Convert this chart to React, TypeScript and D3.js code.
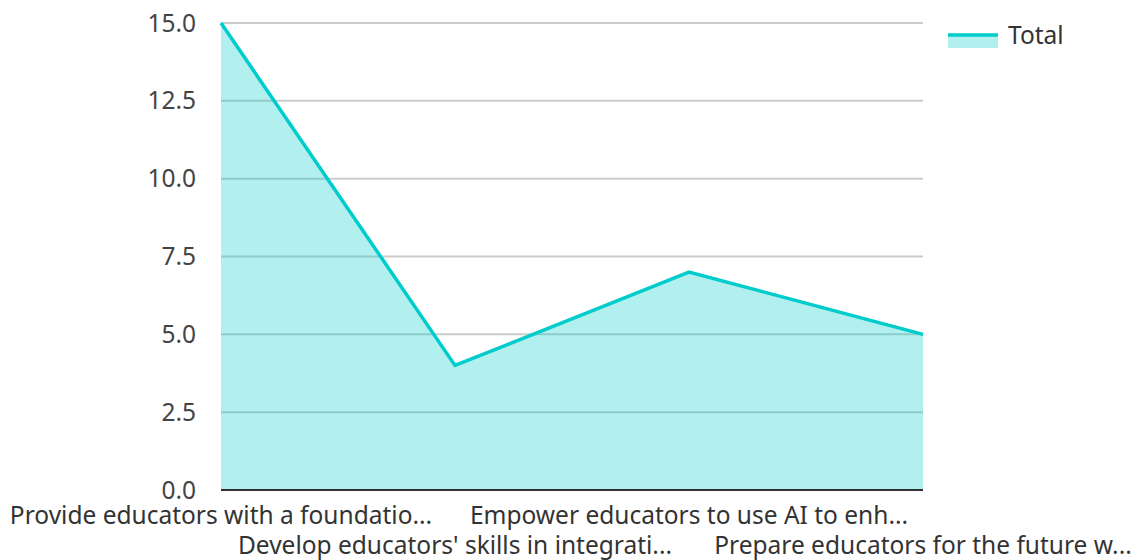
import React, { useEffect, useRef } from 'react';
import * as d3 from 'd3';

const categories = [
  'Provide educators with a foundatio...',
  "Develop educators' skills in integrati...",
  'Empower educators to use AI to enh...',
  'Prepare educators for the future w...',
];
const totals = [15, 4, 7, 5];
const yTicks = [0, 2.5, 5, 7.5, 10, 12.5, 15];
const seriesName = 'Total';

const W = 1137;
const H = 560;
const margin = { top: 23, right: 214, bottom: 70, left: 221 };
const FONT = "'Noto Sans', 'Open Sans', sans-serif";
const FS = 24.5;
const lineColor = '#00cccc';

export default function App() {
  const svgRef = useRef<SVGSVGElement | null>(null);

  useEffect(() => {
    if (!svgRef.current) return;
    const svg = d3.select(svgRef.current);
    svg.selectAll('*').remove();

    const chartW = W - margin.left - margin.right;
    const chartH = H - margin.top - margin.bottom;

    const x = d3.scalePoint<string>().domain(categories).range([0, chartW]);
    const y = d3.scaleLinear().domain([0, 15]).range([chartH, 0]);

    const g = svg.append('g').attr('transform', `translate(${margin.left},${margin.top})`);

    // grid
    g.append('g')
      .selectAll('line')
      .data(yTicks.filter(t => t > 0))
      .join('line')
      .attr('x1', 0)
      .attr('x2', chartW)
      .attr('y1', d => y(d))
      .attr('y2', d => y(d))
      .attr('stroke', '#cccccc')
      .attr('stroke-width', 2);

    // area
    const area = d3.area<number>()
      .x((_, i) => x(categories[i]) || 0)
      .y0(chartH)
      .y1(d => y(d));

    g.append('path')
      .datum(totals)
      .attr('fill', lineColor)
      .attr('fill-opacity', 0.3)
      .attr('d', area);

    const line = d3.line<number>()
      .x((_, i) => x(categories[i]) || 0)
      .y(d => y(d));

    g.append('path')
      .datum(totals)
      .attr('fill', 'none')
      .attr('stroke', lineColor)
      .attr('stroke-width', 3.5)
      .attr('d', line);

    // x axis line
    g.append('line')
      .attr('x1', 0)
      .attr('x2', chartW)
      .attr('y1', chartH)
      .attr('y2', chartH)
      .attr('stroke', '#333333')
      .attr('stroke-width', 2);

    // y tick labels
    g.append('g')
      .selectAll('text')
      .data(yTicks)
      .join('text')
      .attr('x', -25)
      .attr('y', d => y(d))
      .attr('dy', '0.35em')
      .attr('text-anchor', 'end')
      .attr('font-family', FONT)
      .attr('font-size', FS)
      .attr('fill', '#444444')
      .text(d => d.toFixed(1));

    // x labels, staggered
    g.append('g')
      .selectAll('text')
      .data(categories)
      .join('text')
      .attr('x', d => x(d) || 0)
      .attr('y', (_, i) => chartH + (i % 2 === 0 ? 34 : 64))
      .attr('text-anchor', 'middle')
      .attr('font-family', FONT)
      .attr('font-size', FS)
      .attr('fill', '#333333')
      .text(d => d);

    // legend
    const lg = svg.append('g').attr('transform', 'translate(948,35)');
    lg.append('rect')
      .attr('x', 0)
      .attr('y', 0)
      .attr('width', 50)
      .attr('height', 13)
      .attr('fill', lineColor)
      .attr('fill-opacity', 0.3);
    lg.append('line')
      .attr('x1', 0)
      .attr('x2', 50)
      .attr('y1', 0)
      .attr('y2', 0)
      .attr('stroke', lineColor)
      .attr('stroke-width', 3.5);
    lg.append('text')
      .attr('x', 60)
      .attr('y', 0)
      .attr('dy', '0.35em')
      .attr('font-family', FONT)
      .attr('font-size', FS)
      .attr('fill', '#333333')
      .text(seriesName);
  }, []);

  return (
    <div style={{ position: 'absolute', left: 0, top: 0 }}>
      <svg ref={svgRef} width={W} height={H} style={{ display: 'block' }} />
    </div>
  );
}
